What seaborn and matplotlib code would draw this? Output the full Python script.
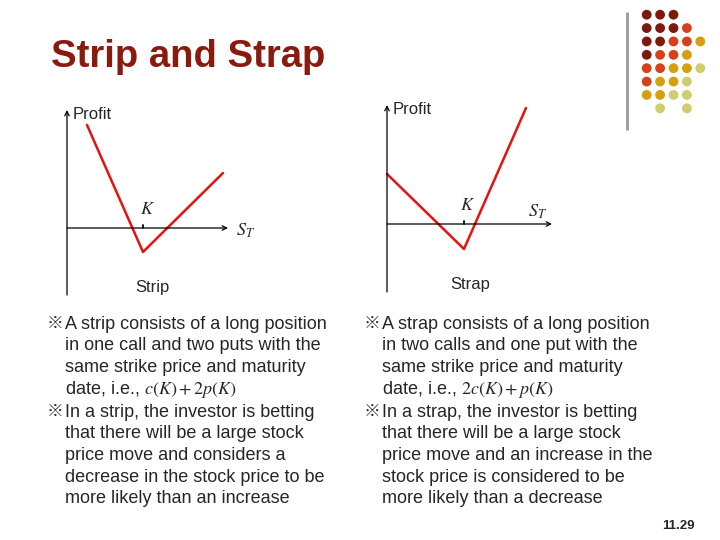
import numpy as np
import pandas as pd
import matplotlib
matplotlib.use('Agg')
import matplotlib.pyplot as plt
import seaborn as sns

# Payoff diagrams (price vs profit)
strip_price = [20, 76, 156]
strip_profit = [103, -24, 55]
strap_price = [0, 77, 139]
strap_profit = [50, -25, 116]
strip_K = 76
strap_K = 77

# Bullet texts
left_b1 = ["A strip consists of a long position",
           "in one call and two puts with the",
           "same strike price and maturity",
           r"date, i.e., $c(K) + 2p(K)$"]
left_b2 = ["In a strip, the investor is betting",
           "that there will be a large stock",
           "price move and considers a",
           "decrease in the stock price to be",
           "more likely than an increase"]
right_b1 = ["A strap consists of a long position",
            "in two calls and one put with the",
            "same strike price and maturity",
            r"date, i.e., $2c(K) + p(K)$"]
right_b2 = ["In a strap, the investor is betting",
            "that there will be a large stock",
            "price move and an increase in the",
            "stock price is considered to be",
            "more likely than a decrease"]

# Decorative dot grid (D dark red, O orange, G gold, P pale olive)
dot_rows = ["DDD..",
            "DDDO.",
            "DDOOG",
            "DOOG.",
            "OOGGP",
            "OGGP.",
            "GGPP.",
            ".P.P."]
dot_colors = {'D': '#7d1a0c', 'O': '#d6401a', 'G': '#d4a010', 'P': '#cfcd6e'}

sns.set_theme(style='white')
plt.rcParams['font.family'] = ['Liberation Sans', 'Noto Sans CJK JP', 'DejaVu Sans']
plt.rcParams['mathtext.fontset'] = 'stix'

fig = plt.figure(figsize=(7.2, 5.4), dpi=100)
fig.patch.set_facecolor('white')


def px_axes(x0, y0, x1, y1):
    ax = fig.add_axes([x0 / 720, 1 - y1 / 540, (x1 - x0) / 720, (y1 - y0) / 540])
    ax.set_axis_off()
    return ax


# background axes in pixel units for slide text
bg = px_axes(0, 0, 720, 540)
bg.set_xlim(0, 720)
bg.set_ylim(540, 0)

bg.text(51, 67, "Strip and Strap", fontsize=27.5, fontweight='bold',
        color='#8b1a0e', va='baseline', ha='left')
bg.text(695, 529, "11.29", fontsize=9.5, fontweight='bold', ha='right', va='baseline')
bg.plot([627, 627], [12, 130], color='#9a9a9a', lw=2, solid_capstyle='butt')


def bullets(x, y, lines, gap=21.5):
    bg.text(x - 4, y - 6, "※", fontsize=12, family='Noto Sans CJK JP', va='center', ha='left')
    for i, s in enumerate(lines):
        bg.text(x + 14, y + i * gap, s, fontsize=13, va='baseline', ha='left')


bullets(51, 329, left_b1)
bullets(51, 417, left_b2)
bullets(368, 329, right_b1)
bullets(368, 417, right_b2)

# dot grid
dots = pd.DataFrame([(c, r, dot_colors[ch]) for r, row in enumerate(dot_rows)
                     for c, ch in enumerate(row) if ch != '.'],
                    columns=['col', 'row', 'color'])
dax = px_axes(640, 8, 707, 115)
sns.scatterplot(data=dots, x='col', y='row', hue='color', palette={v: v for v in dot_colors.values()},
                s=50, edgecolor='none', legend=False, ax=dax)
dax.set_xlim(-0.5, 4.5)
dax.set_ylim(7.5, -0.5)
dax.set_axis_off()


def payoff(ax, price, profit, K, xmax, ymin, ymax, name, name_pos, st_pos):
    df = pd.DataFrame({'price': price, 'profit': profit})
    sns.lineplot(data=df, x='price', y='profit', color='#e8120c', lw=1.8, ax=ax, sort=False)
    arrow = dict(arrowstyle='->', lw=0.9, color='black', mutation_scale=8, shrinkA=0, shrinkB=0)
    ax.annotate('', xy=(xmax, 0), xytext=(0, 0), arrowprops=arrow)
    ax.annotate('', xy=(0, ymax), xytext=(0, ymin), arrowprops=arrow)
    ax.plot([K, K], [0, 3], color='black', lw=1.3)
    ax.text(K + 4, 10, '$K$', fontsize=13, ha='center', va='bottom')
    ax.text(st_pos[0], st_pos[1], '$S_T$', fontsize=13, ha='center', va='center')
    ax.text(6, ymax - 5, 'Profit', fontsize=12, ha='left', va='center')
    ax.text(name_pos[0], name_pos[1], name, fontsize=12, ha='center', va='center')
    ax.set_axis_off()


left = px_axes(60, 95, 260, 305)
left.set_xlim(-7, 193)
left.set_ylim(228 - 305, 228 - 95)
payoff(left, strip_price, strip_profit, strip_K, 161, -67, 118, 'Strip', (85, -60), (178, -3))

right = px_axes(380, 95, 570, 305)
right.set_xlim(-7, 183)
right.set_ylim(224 - 305, 224 - 95)
payoff(right, strap_price, strap_profit, strap_K, 165, -68, 119, 'Strap', (83, -61), (150, 12))

fig.savefig('out.png', dpi=100, facecolor='white')
